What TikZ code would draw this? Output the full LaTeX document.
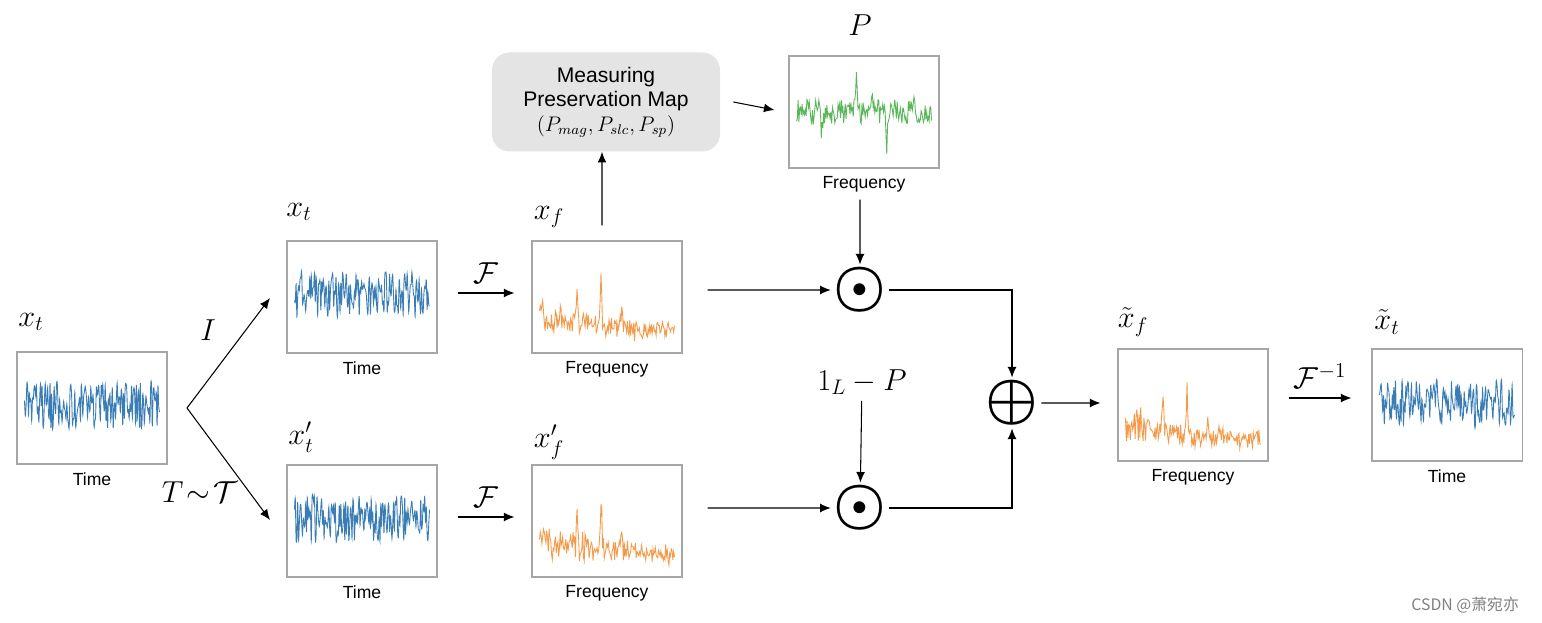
\documentclass[tikz,border=0pt]{standalone}
\usepackage{amsmath,amssymb,bm}
\usepackage{fontspec}
\setmainfont{Liberation Sans}
\newfontfamily\cjk{Noto Sans CJK SC}
\usetikzlibrary{arrows.meta, calc}
\definecolor{sigblue}{HTML}{3A7DB5}
\definecolor{sigorange}{HTML}{F59A4A}
\definecolor{siggreen}{HTML}{5BB55B}
\definecolor{boxgray}{HTML}{E4E4E4}
\tikzset{
  plotbox/.style={draw=black!35, line width=0.6pt, minimum width=3cm, minimum height=2.24cm, inner sep=0pt},
  arr/.style={-{Latex[length=6pt,width=5pt]}, line width=0.6pt},
  lbl/.style={font=\LARGE},
  axis/.style={font=\normalsize},
  op/.style={font=\Huge, inner sep=1pt, scale=1.35},
}
% #1 node
\newcommand{\sigblue}[1]{%
  \begin{scope}[shift={(#1.center)}]
    \draw[sigblue, line width=0.5pt] plot[domain=-1.35:1.35, samples=170, smooth] (\x, {0.05+0.45*rand});
  \end{scope}}
\newcommand{\sigorange}[1]{%
  \begin{scope}[shift={(#1.center)}]
    \draw[sigorange, line width=0.5pt] plot[domain=-1.35:1.35, samples=170]
      (\x, {-0.8+0.55*exp(-0.5*(\x+1.35))*(0.3+rnd)+0.15*rand+0.8*exp(-((\x+0.6)/0.02)^2)+1.0*exp(-((\x+0.12)/0.02)^2)+0.4*exp(-((\x-0.3)/0.02)^2)});
  \end{scope}}
\newcommand{\siggreen}[1]{%
  \begin{scope}[shift={(#1.center)}]
    \draw[siggreen, line width=0.5pt] plot[domain=-1.35:1.35, samples=170]
      (\x, {0.0+0.25*rand+0.9*exp(-((\x+0.15)/0.02)^2)-0.85*exp(-((\x-0.45)/0.02)^2)+0.55*exp(-((\x-0.15)/0.02)^2)-0.5*exp(-((\x+0.85)/0.02)^2)+0.5*exp(-((\x-1.0)/0.02)^2)});
  \end{scope}}
\begin{document}
\begin{tikzpicture}
\pgfmathsetseed{7}
\useasboundingbox (0,0) rectangle (30.84,12.44);

% --- boxes ---
\node[plotbox] (in)  at (1.84,4.28) {};
\node[plotbox] (xt)  at (7.24,6.50) {};
\node[plotbox] (xtp) at (7.24,2.02) {};
\node[plotbox] (xf)  at (12.14,6.50) {};
\node[plotbox] (xfp) at (12.14,2.02) {};
\node[plotbox] (P)   at (17.28,10.20) {};
\node[plotbox] (xtf) at (23.86,4.34) {};
\node[plotbox] (xtt) at (28.94,4.34) {};
\node[fill=boxgray, rounded corners=10pt, minimum width=4.56cm, minimum height=1.98cm, align=center, font=\large, inner sep=2pt]
  (map) at (12.12,10.40) {Measuring\\Preservation Map\\$(P_{mag}, P_{slc}, P_{sp})$};

\sigblue{in} \sigblue{xt} \sigblue{xtp} \sigblue{xtt}
\sigorange{xf} \sigorange{xfp} \sigorange{xtf}
\siggreen{P}

% --- axis names ---
\node[axis, below=1pt] (a1) at (in.south) {Time};
\node[axis, below=1pt] (a2) at (xt.south) {Time};
\node[axis, below=1pt] (a3) at (xtp.south) {Time};
\node[axis, below=1pt] (a4) at (xf.south) {Frequency};
\node[axis, below=1pt] (a5) at (xfp.south) {Frequency};
\node[axis, below=1pt] (a6) at (P.south) {Frequency};
\node[axis, below=1pt] (a7) at (xtf.south) {Frequency};
\node[axis, below=1pt] (a8) at (xtt.south) {Time};

% --- labels ---
\node[lbl] (l1) at (0.62,6.0) {$x_t$};
\node[lbl] (l2) at (5.98,8.2) {$x_t$};
\node[lbl] (l3) at (6.02,3.7) {$x'_t$};
\node[lbl] (l4) at (10.98,8.1) {$x_f$};
\node[lbl] (l5) at (10.98,3.6) {$x'_f$};
\node[lbl] (l6) at (17.2,11.94) {$P$};
\node[lbl] (l7) at (22.66,6.0) {$\tilde{x}_f$};
\node[lbl] (l8) at (27.74,6.0) {$\tilde{x}_t$};
\node[lbl] (lI) at (4.16,5.84) {$I$};
\node[lbl] (lT) at (4.0,2.6) {$T\!\sim\!\mathcal{T}$};
\node[lbl] (one) at (17.24,4.80) {$1_L - P$};

% --- operators ---
\node[op] (m1) at (17.2,6.64) {$\bm{\odot}$};
\node[op] (m2) at (17.2,2.28) {$\bm{\odot}$};
\node[op] (pl) at (20.24,4.38) {$\bm{\oplus}$};

% --- connectors ---
\coordinate (br) at (3.74,4.28);
\coordinate (bt) at (5.4,6.48);
\coordinate (bb) at (5.4,2.04);
\draw[arr] (br) -- (bt);
\draw[arr] (br) -- (bb);
\draw[arr] ($(xt.east)+(0.4,0.08)$) -- node[lbl, above=2pt] {$\mathcal{F}$} ($(xf.west)+(-0.34,0.08)$);
\draw[arr] ($(xtp.east)+(0.4,0.08)$) -- node[lbl, above=2pt] {$\mathcal{F}$} ($(xfp.west)+(-0.34,0.08)$);
\draw[arr] ($(xf.north)+(-0.1,0.3)$) -- ($(map.south)+(-0.08,0)$);
\draw[arr] ($(map.east)+(0.26,0)$) -- ($(P.west)+(-0.28,0.04)$);
\draw[arr] ($(P.south)+(-0.08,-0.62)$) -- (m1);
\draw[arr] ($(xf.east)+(0.5,0.14)$) -- (m1);
\draw[arr] ($(xfp.east)+(0.5,0.26)$) -- (m2);
\draw[arr] (one) -- (m2);
\draw[arr] (m1.east) -| (pl.north);
\draw[arr] (m2.east) -| (pl.south);
\draw[arr] (pl.east) -- ($(xtf.west)+(-0.34,0.04)$);
\draw[arr] ($(xtf.east)+(0.4,0.14)$) -- node[lbl, above=2pt] {$\mathcal{F}^{-1}$} ($(xtt.west)+(-0.4,0.14)$);

\node[font=\cjk\small, text=black!50, anchor=east] (wm) at (30.5,0.34) {CSDN @萧宛亦};
\end{tikzpicture}
\end{document}
